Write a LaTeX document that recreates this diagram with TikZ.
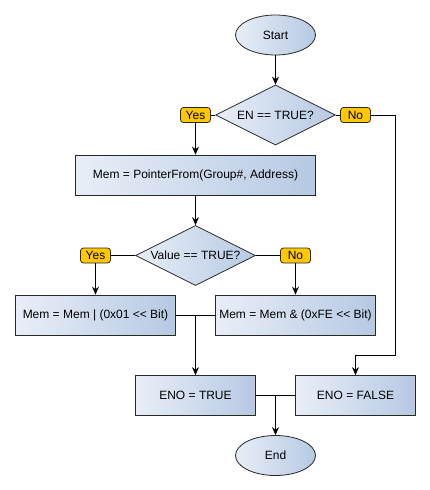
\documentclass[tikz,border=0pt]{standalone}
\usepackage{fontspec}
\setmainfont{Liberation Sans}
\usepackage{tikz}
\usetikzlibrary{shapes.geometric,arrows.meta,positioning}
\definecolor{boxleft}{RGB}{232,238,247}
\definecolor{boxright}{RGB}{182,201,227}
\definecolor{tagfill}{RGB}{255,200,0}
\definecolor{edgegray}{RGB}{40,40,40}
\tikzstyle{action}=[draw=edgegray,left color=boxleft,right color=boxright,rectangle,minimum height=40pt,inner sep=0pt,font=\fontsize{12}{14}\selectfont]
\tikzstyle{check}=[draw=edgegray,left color=boxleft,right color=boxright,diamond,aspect=2,minimum width=120pt,minimum height=60pt,inner sep=0pt,font=\fontsize{12}{14}\selectfont]
\tikzstyle{terminal}=[draw=edgegray,left color=boxleft,right color=boxright,ellipse,minimum width=80pt,minimum height=40pt,inner sep=0pt,font=\fontsize{12}{14}\selectfont]
\tikzstyle{tag}=[draw=edgegray,fill=tagfill,rounded corners=3pt,minimum width=30pt,minimum height=15pt,inner sep=0pt,font=\fontsize{12}{14}\selectfont]

\begin{document}
\begin{tikzpicture}[x=1pt,y=-1pt,line width=0.8pt,>={Stealth[length=8pt,width=7pt]}]
\useasboundingbox (0,0) rectangle (430,490);
\draw (275.5, 35) node [terminal] (start) {Start};
\draw (275.5, 115) node [check] (en) {EN == TRUE?};
\draw (195.5, 115) node [tag] (yes1) {Yes};
\draw (355.5, 115) node [tag] (no1) {No};
\draw (195.5, 175) node [action,minimum width=240pt] (ptr) {Mem = PointerFrom(Group\#, Address)};
\draw (195.5, 255.5) node [check] (val) {Value == TRUE?};
\draw (95.5, 255.5) node [tag] (yes2) {Yes};
\draw (295.5, 255.5) node [tag] (no2) {No};
\draw (95.5, 315) node [action,minimum width=160pt] (setbit) {Mem = Mem | (0x01 {<}{<} Bit)};
\draw (295.5, 315) node [action,minimum width=160pt] (clrbit) {Mem = Mem \& (0xFE {<}{<} Bit)};
\draw (195.5, 395.5) node [action,minimum width=120pt] (enotrue) {ENO = TRUE};
\draw (355.5, 395.5) node [action,minimum width=120pt] (enofalse) {ENO = FALSE};
\draw (275.5, 455.5) node [terminal] (end) {End};
\coordinate (skip) at (395.5, 355);
\coordinate (join1) at (195.5, 315);
\coordinate (join2) at (275.5, 395.5);
\draw[->] (start) -- (en);
\draw (en) -- (yes1);
\draw[->] (yes1) -- (ptr);
\draw (en) -- (no1);
\draw (no1) -| (skip);
\draw[->] (skip) -| (enofalse.north);
\draw[->] (ptr) -- (val);
\draw (val) -- (yes2);
\draw (val) -- (no2);
\draw[->] (yes2) -- (setbit);
\draw[->] (no2) -- (clrbit);
\draw (setbit) -- (join1);
\draw (clrbit) -- (join1);
\draw[->] (join1) -- (enotrue);
\draw (enotrue) -- (join2);
\draw (enofalse) -- (join2);
\draw[->] (join2) -- (end);
\end{tikzpicture}
\end{document}
